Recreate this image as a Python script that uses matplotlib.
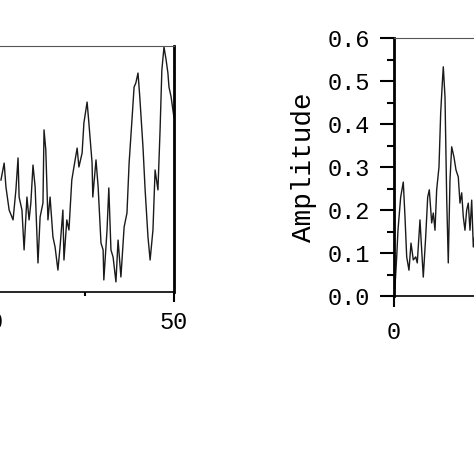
import numpy as np
import matplotlib.pyplot as plt

# left panel: time signal (only the right part is visible in the crop)
sig_t = [1.4, 2.3, 2.8, 3.7, 4.8, 5.6, 6.2, 6.5, 7.3, 7.9, 8.7, 9.3, 9.8, 10.4, 11.0,
         11.8, 12.4, 13.2, 13.5, 14.0, 14.6, 15.2, 16.0, 16.6, 17.4, 18.0, 18.8, 19.1,
         19.9, 20.5, 21.3, 21.9, 22.8, 23.3, 24.2, 24.7, 25.6, 26.1, 27.0, 27.2, 28.1,
         28.7, 29.5, 30.1, 30.3, 31.2, 31.7, 32.3, 32.9, 33.7, 34.3, 35.1, 36.0, 36.8,
         37.4, 38.2, 38.8, 39.3, 39.9, 40.4, 41.3, 41.9, 42.7, 43.3, 44.1, 44.7, 45.5,
         46.1, 46.6, 47.2, 47.8, 48.3, 48.6, 49.2, 49.7, 50.0]
sig_amp = [0.455, 0.524, 0.427, 0.333, 0.293, 0.415, 0.545, 0.386, 0.333, 0.171, 0.386,
           0.293, 0.362, 0.516, 0.427, 0.118, 0.305, 0.362, 0.659, 0.577, 0.293, 0.386,
           0.224, 0.183, 0.089, 0.183, 0.333, 0.130, 0.293, 0.252, 0.455, 0.508, 0.585,
           0.508, 0.565, 0.687, 0.772, 0.687, 0.524, 0.386, 0.537, 0.427, 0.199, 0.171,
           0.049, 0.252, 0.423, 0.171, 0.142, 0.041, 0.211, 0.061, 0.264, 0.321, 0.524,
           0.699, 0.833, 0.850, 0.890, 0.793, 0.589, 0.415, 0.224, 0.130, 0.252, 0.496,
           0.415, 0.659, 0.902, 0.996, 0.943, 0.890, 0.833, 0.793, 0.740, 0.711]

# right panel: amplitude spectrum (only the left part is visible)
spec_f = [0.0, 0.28, 0.76, 1.12, 1.88, 2.61, 3.09, 3.57, 4.21, 4.78, 5.42, 6.10, 6.54,
          7.30, 7.78, 8.23, 8.90, 9.47, 9.92, 10.59, 11.04, 11.52, 11.99, 12.64, 13.12,
          13.57, 13.85, 14.33, 14.80, 15.25, 15.73, 16.21, 16.85, 17.42, 18.06, 18.54,
          19.02, 19.47, 19.94, 20.42, 20.87, 21.35, 21.83, 22.28, 23.0]
spec_amp = [0.005, 0.021, 0.091, 0.153, 0.230, 0.265, 0.184, 0.091, 0.060, 0.123, 0.084,
            0.091, 0.077, 0.177, 0.107, 0.044, 0.137, 0.230, 0.247, 0.170, 0.193, 0.153,
            0.247, 0.300, 0.426, 0.495, 0.533, 0.463, 0.230, 0.077, 0.270, 0.347, 0.323,
            0.293, 0.277, 0.216, 0.240, 0.184, 0.153, 0.200, 0.216, 0.153, 0.223, 0.114,
            0.160]

spec_yticks = [0.0, 0.1, 0.2, 0.3, 0.4, 0.5, 0.6]

FONT = 'Liberation Mono'

fig = plt.figure(figsize=(4.74, 4.74), dpi=100)

# ---- left panel ----
ax1 = fig.add_axes([-0.0085, 0.384, 0.3755, 0.519])
ax1.plot(sig_t, sig_amp, color='#1a1a1a', linewidth=1.0)
ax1.set_xlim(0, 50)
ax1.set_ylim(0, 1)
ax1.set_xticks([0, 50])
ax1.set_xticks([25], minor=True)
ax1.set_xticklabels(['0', '50'], fontfamily=FONT, fontsize=17)
ax1.set_yticks([])
ax1.tick_params(axis='x', which='major', direction='out', length=7, width=1.5, pad=7)
ax1.tick_params(axis='x', which='minor', direction='out', length=3, width=1.5)
ax1.spines['top'].set_linewidth(0.8)
ax1.spines['top'].set_color('#555555')
ax1.spines['right'].set_linewidth(2.0)
ax1.spines['bottom'].set_linewidth(1.2)

# ---- right panel ----
ax2 = fig.add_axes([0.8312, 0.3755, 0.3755, 0.5443])
ax2.plot(spec_f, spec_amp, color='#1a1a1a', linewidth=1.0)
ax2.set_xlim(0, 50)
ax2.set_ylim(0, 0.6)
ax2.set_xticks([0])
ax2.set_xticklabels(['0'], fontfamily=FONT, fontsize=17)
ax2.set_yticks(spec_yticks)
ax2.set_yticklabels(['%.1f' % v for v in spec_yticks], fontfamily=FONT, fontsize=17)
ax2.set_yticks(np.arange(0.05, 0.6, 0.1), minor=True)
ax2.tick_params(axis='y', which='major', direction='out', length=10, width=1.5, pad=7)
ax2.tick_params(axis='y', which='minor', direction='out', length=5, width=1.5)
ax2.tick_params(axis='x', which='major', direction='out', length=8, width=1.5, pad=10)
ax2.set_ylabel('Amplitude', fontfamily=FONT, fontsize=20, labelpad=8)
ax2.spines['top'].set_linewidth(0.8)
ax2.spines['top'].set_color('#555555')
ax2.spines['left'].set_linewidth(2.0)
ax2.spines['bottom'].set_linewidth(1.2)

plt.savefig('out.png', dpi=100)
